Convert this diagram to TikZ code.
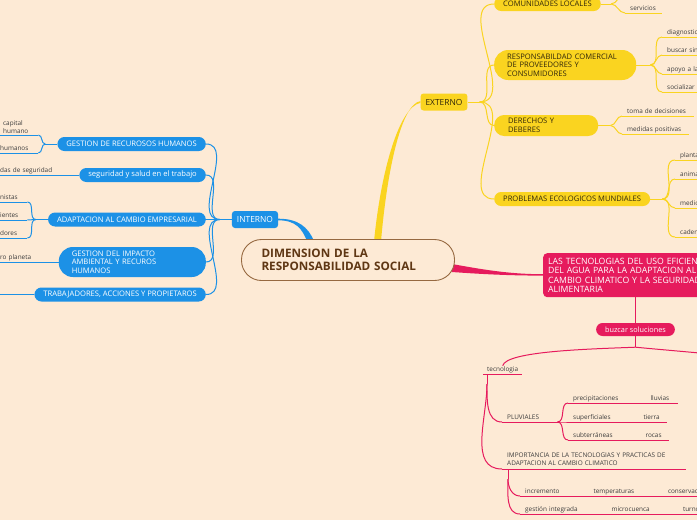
\documentclass[tikz,border=0pt]{standalone}
\usepackage{fontspec}
\setmainfont{Open Sans}
\usetikzlibrary{calc, backgrounds}
\definecolor{bgcolor}{RGB}{253,234,213}
\definecolor{intcolor}{RGB}{28,145,230}
\definecolor{extcolor}{RGB}{250,212,32}
\definecolor{teccolor}{RGB}{230,27,93}
\definecolor{ctrcolor}{RGB}{150,105,65}
\definecolor{ctrtext}{RGB}{95,55,20}
\definecolor{lftext}{RGB}{60,60,60}
\definecolor{exttext}{RGB}{50,40,10}
\newcommand{\ndfont}{\fontsize{7.6}{8.6}\selectfont}
\newcommand{\lffont}{\fontsize{6.4}{8}\selectfont}
\newcommand{\hubfont}{\fontsize{8.4}{10}\selectfont}
\newcommand{\ctfont}{\fontsize{11.7}{13}\selectfont\bfseries}
\newcommand{\bgfont}{\fontsize{8.7}{9.4}\selectfont}

\begin{document}
\begin{tikzpicture}[x=1pt, y=-1pt,
  % --- Styles ---
  ctr/.style={rectangle, rounded corners=20pt, draw=ctrcolor, line width=0.9pt,
    fill=bgcolor, text=ctrtext, font=\ctfont, align=left, text width=173pt,
    inner xsep=20pt, minimum height=41pt},
  hub/.style={rectangle, rounded corners=3pt, fill=#1, font=\hubfont,
    minimum height=17pt, inner xsep=5pt},
  mbox/.style={rectangle, rounded corners=7pt, fill=#1, font=\ndfont,
    minimum height=14pt, inner xsep=9pt, inner ysep=0pt},
  mbig/.style={mbox=#1, rounded corners=14pt, align=left, inner xsep=13pt},
  lf/.style={font=\lffont, text=lftext, anchor=south west, align=left,
    inner xsep=5pt, inner ysep=1pt, text depth=1pt, text width=#1},
  leafln/.style={line width=0.9pt},
  lfb/.style={lf=#1, append after command={(\tikzlastnode.south west)
    edge[leafln, intcolor] (\tikzlastnode.south east)}},
  lfy/.style={lf=#1, append after command={(\tikzlastnode.south west)
    edge[leafln, extcolor] (\tikzlastnode.south east)}},
  lfp/.style={lf=#1, append after command={(\tikzlastnode.south west)
    edge[leafln, teccolor] (\tikzlastnode.south east)}},
  conn/.style={line width=1pt, draw=#1},
]
\useasboundingbox (0,0) rectangle (697,520);

% === NODES ===
% centre
\node[ctr] (C) at (348,260) {DIMENSION DE LA\\RESPONSABILIDAD SOCIAL};

% internal side
\node[hub=intcolor, text=white] (INT) at (255,219.5) {INTERNO};
\node[mbox=intcolor, text=white, anchor=east] (GRH) at (206,144) {GESTION DE RECUROSOS HUMANOS};
\node[mbox=intcolor, text=white, anchor=east] (SST) at (206,175) {seguridad y salud en el trabajo};
\node[mbox=intcolor, text=white, anchor=east] (ACE) at (206,219.5) {ADAPTACION AL CAMBIO EMPRESARIAL};
\node[mbig=intcolor, text=white, anchor=east, text width=121pt, minimum height=30pt]
  (GIA) at (206,262) {GESTION DEL IMPACTO\\AMBIENTAL Y RECUROS\\HUMANOS};
\node[mbox=intcolor, text=white, anchor=east] (TAP) at (206,294.5) {TRABAJADORES, ACCIONES Y PROPIETAROS};
% internal leaves
\node[lfb=30pt, text depth=] (CHU) at (-2,135) {capital\\humano};
\node[lfb=33pt] (HUM) at (-5,153) {humanos};
\node[lfb=60pt] (SEG) at (-5,175) {das de seguridad};
\node[lfb=22pt] (NIS) at (-5,202) {nistas};
\node[lfb=22pt] (IEN) at (-5,220) {ientes};
\node[lfb=22pt] (DOR) at (-5,238) {dores};
\node[lfb=45pt] (PLA) at (-5,262) {ro planeta};
\node[lfb=50pt] (TLF) at (-40,294.5) {};

% external side
\node[hub=extcolor, text=exttext] (EXT) at (444,102) {EXTERNO};
\node[mbox=extcolor, text=exttext, anchor=west] (COL) at (494,4) {COMUNIDADES LOCALES};
\node[mbig=extcolor, text=exttext, anchor=west, text width=116pt, minimum height=30pt]
  (RCP) at (494,65) {RESPONSABILDAD COMERCIAL\\DE PROVEEDORES Y\\CONSUMIDORES};
\node[mbig=extcolor, text=exttext, anchor=west, text width=76pt, inner xsep=14pt,
  minimum height=21pt, rounded corners=10pt] (DYD) at (494,125.5) {DERECHOS Y\\DEBERES};
\node[mbox=extcolor, text=exttext, anchor=west] (PEM) at (494,199) {PROBLEMAS ECOLOGICOS MUNDIALES};
% external leaves
\node[lfy=30pt] (CL0) at (625,-6) {};
\node[lfy=27pt] (SER) at (625,13) {servicios};
\node[lfy=50pt] (DIA) at (662,37) {diagnostic};
\node[lfy=50pt] (BSI) at (662,55) {buscar sin};
\node[lfy=50pt] (APO) at (662,74) {apoyo a la};
\node[lfy=50pt] (SOC) at (662,92) {socializar};
\node[lfy=62pt] (TDD) at (622,116) {toma de decisiones};
\node[lfy=57pt] (MPO) at (622,134) {medidas positivas};
\node[lfy=30pt] (PLT) at (675,160) {planta};
\node[lfy=30pt] (ANI) at (675,179) {anima};
\node[lfy=30pt] (MED) at (675,208) {medio};
\node[lfy=30pt] (CAD) at (675,237) {caden};

% technology side
\node[mbig=teccolor, text=white, anchor=north west, font=\bgfont, rounded corners=4pt,
  inner xsep=5pt, text width=200pt, minimum height=44pt] (LTU) at (543,253)
  {LAS TECNOLOGIAS DEL USO EFICIENTE\\DEL AGUA PARA LA ADAPTACION AL\\CAMBIO CLIMATICO Y LA SEGURIDAD\\ALIMENTARIA};
\node[mbox=teccolor, text=white, font=\fontsize{7.3}{9}\selectfont, rounded corners=6.5pt,
  minimum height=13pt] (BZS) at (635.5,329.5) {buzcar soluciones};
% technology leaves
\node[lfp=31pt, inner xsep=4pt] (TEC) at (483,374) {tecnologia};
\node[lfp=45pt] (PLU) at (502,422) {PLUVIALES};
\node[lfp=67pt] (PRE) at (568,403) {precipitaciones};
\node[lfp=22pt] (LLU) at (PRE.south east) {lluvias};
\node[lfp=60pt] (SUP) at (568,422) {superficiales};
\node[lfp=18pt] (TIE) at (SUP.south east) {tierra};
\node[lfp=62pt] (SUB) at (568,440) {subterráneas};
\node[lfp=18pt] (ROC) at (SUB.south east) {rocas};
\node[lfp=174pt, text depth=, inner ysep=3pt] (IMP) at (502,469)
  {IMPORTANCIA DE LA TECNOLOGIAS Y PRACTICAS DE\\ADAPTACION AL CAMBIO CLIMATICO};
\node[lfp=58pt] (INC) at (520,496) {incremento};
\node[lfp=64pt] (TEM) at (INC.south east) {temperaturas};
\node[lfp=50pt] (CON) at (TEM.south east) {conservac};
\node[lfp=76pt] (GES) at (520,514) {gestión integrada};
\node[lfp=61pt] (MIC) at (GES.south east) {microcuenca};
\node[lfp=30pt] (TUR) at (MIC.south east) {turno};

% === CONNECTORS ===
\begin{scope}[on background layer]
\fill[bgcolor] (0,0) rectangle (697,520);
% main branches
\fill[intcolor] ([yshift=0.8pt]INT.east) .. controls +(20,0) and +(-6,-14) ..
  ($(C.north west)+(73,2)$) -- ($(C.north west)+(66,2)$) .. controls +(-5,-12) and +(18,0) ..
  ([yshift=-0.8pt]INT.east) -- cycle;
\fill[extcolor] ([yshift=0.9pt]EXT.west) .. controls +(-19,3) and +(6,-71) ..
  ($(C.north west)+(140,2)$) -- ($(C.north west)+(133,2)$) .. controls +(7,-71) and +(-21,4) ..
  ([yshift=-0.9pt]EXT.west) -- cycle;
\fill[teccolor] ($(C.east)+(-3,4)$) .. controls +(28,5) and +(-35,0) ..
  ($(LTU.west)+(0,-1)$) -- ($(LTU.west)+(0,0.4)$) .. controls +(-35,0) and +(28,2) ..
  ($(C.east)+(-3,12)$) -- cycle;

% internal
\draw[conn=intcolor] (INT.west) -- ++(-12,0) coordinate (ij);
\foreach \n in {GRH, SST, ACE, GIA, TAP}
  \draw[conn=intcolor] (ij) to[out=180, in=0] (\n.east);
\draw[conn=intcolor] (GRH.west) -- ++(-12,0) coordinate (gj);
\draw[conn=intcolor] (gj) to[out=180, in=0] (CHU.south east);
\draw[conn=intcolor] (gj) to[out=180, in=0] (HUM.south east);
\draw[conn=intcolor] (SST.west) -- (SEG.south east);
\draw[conn=intcolor] (ACE.west) -- ++(-12,0) coordinate (aj);
\foreach \n in {NIS, IEN, DOR}
  \draw[conn=intcolor] (aj) to[out=180, in=0] (\n.south east);
\draw[conn=intcolor] (GIA.west) -- (PLA.south east);
\draw[conn=intcolor] (TAP.west) -- (TLF.south east);

% external
\draw[conn=extcolor] (EXT.east) -- ++(12,0) coordinate (xj);
\foreach \n in {COL, RCP, DYD, PEM}
  \draw[conn=extcolor] (xj) to[out=0, in=180] (\n.west);
\draw[conn=extcolor] (COL.east) -- ++(10,0) coordinate (cj);
\foreach \n in {CL0, SER}
  \draw[conn=extcolor] (cj) to[out=0, in=180] (\n.south west);
\draw[conn=extcolor] (RCP.east) -- ++(14,0) coordinate (rj);
\foreach \n in {DIA, BSI, APO, SOC}
  \draw[conn=extcolor] (rj) to[out=0, in=180] (\n.south west);
\draw[conn=extcolor] (DYD.east) -- ++(12,0) coordinate (dj);
\foreach \n in {TDD, MPO}
  \draw[conn=extcolor] (dj) to[out=0, in=180] (\n.south west);
\draw[conn=extcolor] (PEM.east) -- ++(12,0) coordinate (pj);
\foreach \n in {PLT, ANI, MED, CAD}
  \draw[conn=extcolor] (pj) to[out=0, in=180] (\n.south west);

% technology
\draw[conn=teccolor] (BZS.north |- LTU.south) -- (BZS.north);
\draw[conn=teccolor] (BZS.south) -- ++(0,11) coordinate (bj);
\draw[conn=teccolor] (bj) .. controls (590,349) and (506,351) .. (TEC.north);
\coordinate (offr) at (720,355);
\draw[conn=teccolor] (bj) .. controls (665,350) and (690,352) .. (offr);
\draw[conn=teccolor] ([xshift=4pt]TEC.south west) -- ++(0,10) coordinate (tj);
\draw[conn=teccolor] (tj) to[out=-90, in=180] (PLU.south west);
\draw[conn=teccolor] (tj) to[out=-90, in=180] (IMP.south west);
\foreach \n in {PRE, SUP, SUB}
  \draw[conn=teccolor] (PLU.south east) to[out=0, in=180] (\n.south west);
\draw[conn=teccolor] ([xshift=6pt]IMP.south west) -- ++(0,10) coordinate (mj);
\draw[conn=teccolor] (mj) to[out=-90, in=180] (INC.south west);
\draw[conn=teccolor] (mj) to[out=-90, in=180] (GES.south west);
\end{scope}
\end{tikzpicture}
\end{document}
